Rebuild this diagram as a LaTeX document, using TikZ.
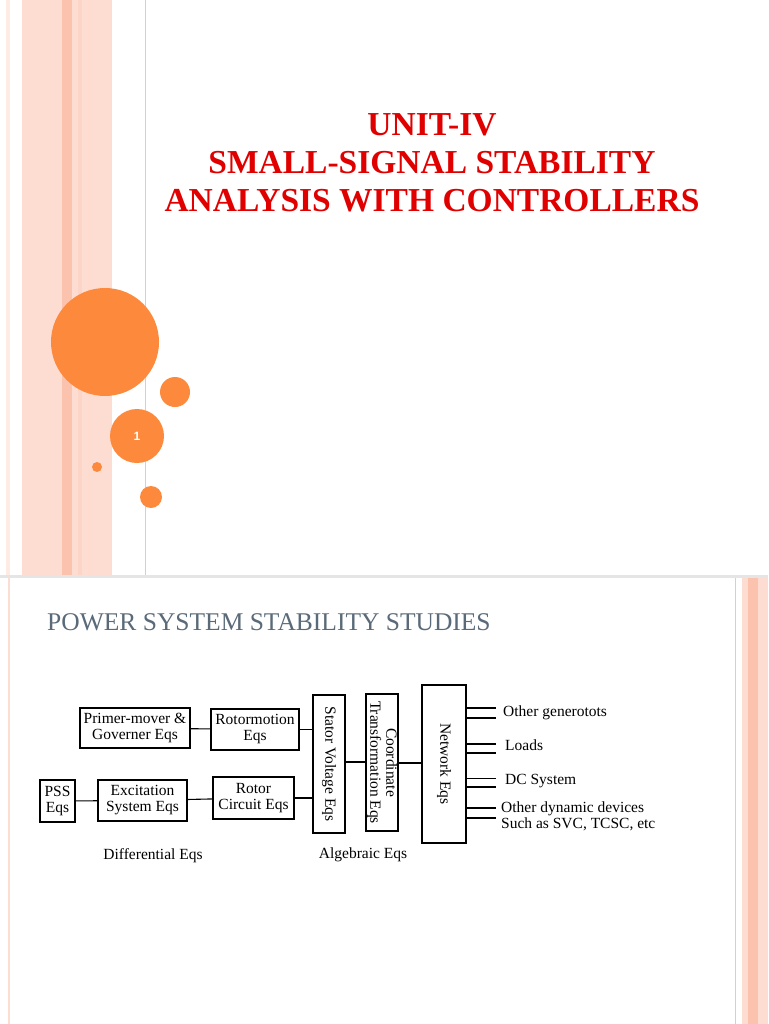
\documentclass[tikz,border=0pt]{standalone}
\usepackage{fontspec}
\setmainfont{Liberation Serif}
\setsansfont{Liberation Sans}
\usepackage{xcolor}
\usetikzlibrary{positioning}
\definecolor{pinkband}{HTML}{FDDDD2}
\definecolor{pinkdark}{HTML}{FBC3AE}
\definecolor{orangedot}{HTML}{FD8A3C}
\definecolor{titlered}{HTML}{E00000}
\definecolor{headgray}{HTML}{5A6A78}
\tikzset{
  blk/.style={draw, line width=1.1pt, align=center, inner sep=0pt, font=\fontsize{15.5}{16}\selectfont},
  vblk/.style={blk, rotate=-90},
  lbl/.style={font=\fontsize{15.5}{16}\selectfont, anchor=west, inner sep=0pt},
  wire/.style={line width=1.1pt}
}
\begin{document}
\begin{tikzpicture}[x=1pt, y=-1pt]
        \useasboundingbox (0,0) rectangle (768,1024);
        \fill[white] (0,0) rectangle (768,1024);
        % top slide stripes
        \fill[pinkband!60] (6,0) rectangle (10,575);
        \fill[pinkband] (22,0) rectangle (112,575);
        \fill[pinkdark] (62,0) rectangle (72,575);
        \fill[pinkdark!70] (78,0) rectangle (82,575);
        \fill[pinkdark!60] (88,0) rectangle (90,575);
        \draw[pinkdark, line width=1pt] (145,0) -- (145,575);
        \fill[gray!20] (0,575) rectangle (768,578);
        % circles
        \fill[orangedot] (105,342) circle (54);
        \fill[orangedot] (175,392) circle (15);
        \fill[orangedot] (137,436) circle (27);
        \fill[orangedot] (97,467) circle (5);
        \fill[orangedot] (151,497) circle (11);
        \node[white, font=\sffamily\bfseries\fontsize{12}{12}\selectfont] (pg) at (137,436) {1};
        \node[titlered, align=center, font=\bfseries\fontsize{33.5}{38}\selectfont] (title) at (432,163)
            {UNIT-IV\\SMALL-SIGNAL STABILITY\\ANALYSIS WITH CONTROLLERS};
        % bottom slide stripes
        \draw[pinkband, line width=1.5pt] (9,578) -- (9,1024);
        \draw[pinkdark, line width=1pt] (735,578) -- (735,1024);
        \fill[pinkband] (742,578) rectangle (768,1024);
        \fill[pinkdark] (748,578) rectangle (758,1024);
        \node[headgray, anchor=west, inner sep=0pt, font=\fontsize{25.5}{25.5}\selectfont] (head) at (47,622)
            {POWER SYSTEM STABILITY STUDIES};
        % block diagram
        \node[blk, minimum width=110, minimum height=40] (prime) at (135,728) {Primer-mover \&\\Governer Eqs};
        \node[blk, minimum width=88, minimum height=41] (rotm) at (255,729.5) {Rotormotion\\Eqs};
        \node[blk, minimum width=35, minimum height=42] (pss) at (57.5,801) {PSS\\Eqs};
        \node[blk, minimum width=89, minimum height=41] (excit) at (142.5,800.5) {Excitation\\System Eqs};
        \node[blk, minimum width=81, minimum height=42] (rotc) at (253.5,798) {Rotor\\Circuit Eqs};
        \node[vblk, minimum width=138, minimum height=32] (stator) at (329,764) {Stator Voltage Eqs};
        \node[vblk, minimum width=137, minimum height=32] (coord) at (382,762.5) {Coordinate\\Transformation Eqs};
        \node[vblk, minimum width=158, minimum height=44] (net) at (444,764) {Network Eqs};
        \draw[wire] (prime) -- (rotm);
        \draw[wire] (rotm.east) -- (rotm.east -| stator.south);
        \draw[wire] (pss) -- (excit);
        \draw[wire] (excit) -- (rotc);
        \draw[wire] (rotc.east) -- (rotc.east -| stator.south);
        \draw[wire] (stator.north |- 0,762) -- (coord.south |- 0,762);
        \draw[wire] (coord.north |- 0,763) -- (net.south |- 0,763);
        % outgoing lines
        \foreach \yy in {708,718,744,753,787,808,818}
            \draw[wire] (net.north |- 0,\yy) -- ++(29,0);
        \draw[line width=0.4pt] (net.north |- 0,778) -- ++(29,0);
        \node[lbl] (gen) at (503,713) {Other generotots};
        \node[lbl] (loads) at (505,745) {Loads};
        \node[lbl] (dcs) at (505,781) {DC System};
        \node[lbl, align=left] (dyn) at (501,816) {Other dynamic devices\\Such as SVC, TCSC, etc};
        \node[font=\fontsize{15.5}{16}\selectfont] (diff) at (153,856) {Differential Eqs};
        \node[font=\fontsize{15.5}{16}\selectfont] (alg) at (363,855) {Algebraic Eqs};
    \end{tikzpicture}
\end{document}
